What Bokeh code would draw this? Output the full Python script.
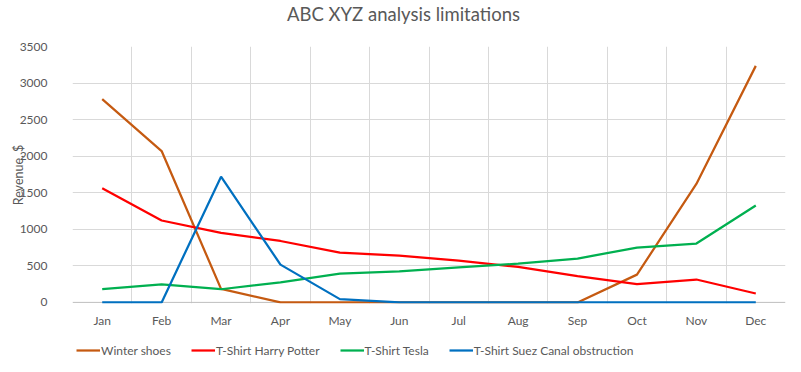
from bokeh.plotting import figure
from bokeh.layouts import column
from bokeh.models import Legend, LegendItem, FixedTicker, Range1d, Span, Label
from bokeh.embed import file_html
from bokeh.resources import INLINE

months = ["Jan", "Feb", "Mar", "Apr", "May", "Jun", "Jul", "Aug", "Sep", "Oct", "Nov", "Dec"]
winter_shoes = [2780, 2070, 185, 0, 0, 0, 0, 0, 0, 380, 1620, 3235]
harry_potter = [1560, 1120, 950, 840, 680, 640, 570, 485, 358, 250, 313, 122]
tesla = [180, 245, 180, 275, 395, 425, 478, 530, 600, 749, 805, 1325]
suez = [0, 0, 1720, 517, 45, 0, 0, 0, 0, 0, 0, 0]
title_text = "ABC XYZ analysis limitations"
y_title = "Revenue, $"

series = [
    ("Winter shoes", winter_shoes, "#C55A11"),
    ("T-Shirt Harry Potter", harry_potter, "#FF0000"),
    ("T-Shirt Tesla", tesla, "#00B050"),
    ("T-Shirt Suez Canal obstruction", suez, "#0070C0"),
]

FONT = "Lato"
GREY = "#595959"
W = 801
LEFT = 72
RIGHT = 16

xs = [i + 0.5 for i in range(len(months))]

# ---- title strip (frames of a column are aligned, so map x to page pixels) ----
tp = figure(width=W, height=30, x_range=Range1d(LEFT, W - RIGHT), y_range=Range1d(0, 30),
            output_backend="svg", toolbar_location=None,
            x_axis_location=None, y_axis_location=None,
            min_border_left=LEFT, min_border_right=RIGHT, min_border_top=0, min_border_bottom=0)
tp.grid.visible = False
tp.outline_line_color = None
tp.add_layout(Label(x=403, y=17, text=title_text, text_font=FONT, text_font_size="18.5px",
                    text_color=GREY, text_align="center", text_baseline="middle"))

# ---- main chart ----
p = figure(width=W, height=307, x_range=(0, 12), y_range=(-15, 3500),
           output_backend="svg", toolbar_location=None,
           min_border_left=LEFT, min_border_right=RIGHT, min_border_top=16, min_border_bottom=34)
p.outline_line_color = None

p.add_layout(Span(location=0, dimension="width", line_color="#BFBFBF", line_width=1, level="underlay"))

for name, vals, col in series:
    p.line(xs, vals, line_color=col, line_width=2.25)

# grids
p.xgrid.ticker = FixedTicker(ticks=list(range(0, 13)))
p.xgrid.grid_line_color = "#D9D9D9"
p.ygrid.ticker = FixedTicker(ticks=list(range(500, 3501, 500)))
p.ygrid.grid_line_color = "#D9D9D9"

# x axis
p.xaxis.ticker = FixedTicker(ticks=xs)
p.xaxis.major_label_overrides = {x: m for x, m in zip(xs, months)}
p.xaxis.axis_line_color = None
p.xaxis.major_tick_line_color = None
p.xaxis.minor_tick_line_color = None
p.xaxis.major_label_text_font = FONT
p.xaxis.major_label_text_font_size = "12px"
p.xaxis.major_label_text_color = GREY
p.xaxis.major_label_standoff = 3

# y axis
p.yaxis.ticker = FixedTicker(ticks=list(range(0, 3501, 500)))
p.yaxis.axis_line_color = None
p.yaxis.major_tick_line_color = None
p.yaxis.minor_tick_line_color = None
p.yaxis.major_label_text_font = FONT
p.yaxis.major_label_text_font_size = "12px"
p.yaxis.major_label_text_color = GREY
p.yaxis.major_label_standoff = 19
p.yaxis.axis_label = y_title
p.yaxis.axis_label_text_font = FONT
p.yaxis.axis_label_text_font_size = "12.5px"
p.yaxis.axis_label_text_font_style = "normal"
p.yaxis.axis_label_text_color = GREY
p.yaxis.axis_label_standoff = -9

# ---- legend strip (series drawn out of view, only the legend shows) ----
lp = figure(width=W, height=35, x_range=Range1d(100, 101), y_range=Range1d(0, 1),
            output_backend="svg", toolbar_location=None,
            x_axis_location=None, y_axis_location=None,
            min_border_left=LEFT, min_border_right=RIGHT, min_border_top=0, min_border_bottom=0)
lp.grid.visible = False
lp.outline_line_color = None
items = []
for name, vals, col in series:
    r = lp.line(xs, vals, line_color=col, line_width=2.25)
    items.append(LegendItem(label=name, renderers=[r]))

legend = Legend(items=items, orientation="horizontal", location=(76 - LEFT, 12))
legend.background_fill_alpha = 0
legend.border_line_color = None
legend.label_text_font = FONT
legend.label_text_font_size = "12px"
legend.label_text_color = GREY
legend.glyph_width = 24
legend.label_standoff = 1
legend.spacing = 20
legend.padding = 0
legend.margin = 0
lp.add_layout(legend, "center")

layout = column(tp, p, lp, spacing=0)
open("out.html", "w").write(file_html(layout, INLINE))
